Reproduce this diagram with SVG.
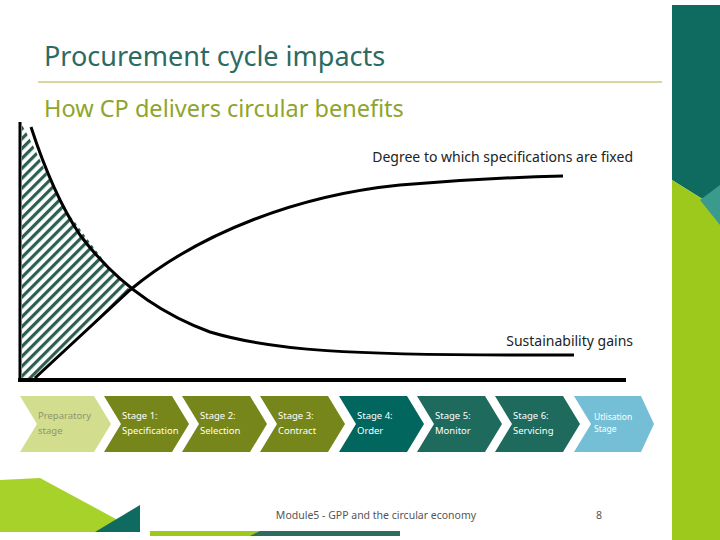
<svg xmlns="http://www.w3.org/2000/svg" width="720" height="540" viewBox="0 0 720 540">
<style>
text{font-family:"Noto Sans","Liberation Sans",sans-serif}
.st{font-size:9.5px;fill:#fff}
.crv{fill:none;stroke:#000;stroke-width:3}
</style>
<defs>
<pattern id="h" patternUnits="userSpaceOnUse" width="7" height="7" patternTransform="rotate(45)">
<rect width="7" height="7" fill="#fff"/><rect width="3.2" height="7" fill="#2c5f52"/>
</pattern>
</defs>
<rect width="720" height="540" fill="#fff"/>
<g id="deco">
<polygon points="672,5 720,5 720,210 672,180" fill="#0f6a5f"/>
<polygon points="672,180 720,210 720,540 672,540" fill="#9cc91c"/>
<polygon points="700,200 720,185 720,225" fill="#3a9a8c"/>
<polygon points="0,480 40,478 140,532 0,532" fill="#a7d22a"/>
<polygon points="95,532 140,505 140,532" fill="#0f6a5f"/>
<polygon points="150,531 400,531 400,536 150,536" fill="#9cc91c"/>
<polygon points="260,531 400,531 400,536 250,536" fill="#2d6d5f"/>
</g>
<text x="44" y="66" font-size="27" fill="#2c6a62">Procurement cycle impacts</text>
<line x1="38" y1="82" x2="662" y2="82" stroke="#b8aa45" stroke-width="1"/>
<text x="44" y="117" font-size="23.5" fill="#8fa52a">How CP delivers circular benefits</text>
<g id="chart">
<path d="M22,125 C40,155 55,200 75,222 C95,250 112,272 130,290 L35,378 L22,378 Z" fill="url(#h)"/>
<line x1="20" y1="122" x2="20" y2="382" stroke="#000" stroke-width="3"/>
<line x1="18" y1="380" x2="626" y2="380" stroke="#000" stroke-width="4"/>
<path class="crv" d="M31,127 C45,170 60,205 80,235 C110,275 150,310 210,332 C270,350 340,356 574,355"/>
<path class="crv" d="M35,378 L130,290 C200,232 300,195 400,185 C470,179 520,177 563,176"/>
<text x="633" y="162" text-anchor="end" font-size="14" fill="#222">Degree to which specifications are fixed</text>
<text x="633" y="346" text-anchor="end" font-size="14" fill="#222">Sustainability gains</text>
</g>
<g id="n0"><polygon points="20,396 94,396 111,424 94,452 20,452 37,424" fill="#d2dd8e"/><text class="st" x="38" y="419" style="fill:#8f9570">Preparatory</text><text class="st" x="38" y="434" style="fill:#8f9570">stage</text></g>
<g id="n1"><polygon points="104,396 172,396 189,424 172,452 104,452 121,424" fill="#76861a"/><text class="st" x="122" y="419">Stage 1:</text><text class="st" x="122" y="434">Specification</text></g>
<g id="n2"><polygon points="182,396 250,396 267,424 250,452 182,452 199,424" fill="#76861a"/><text class="st" x="200" y="419">Stage 2:</text><text class="st" x="200" y="434">Selection</text></g>
<g id="n3"><polygon points="260,396 328,396 345,424 328,452 260,452 277,424" fill="#76861a"/><text class="st" x="278" y="419">Stage 3:</text><text class="st" x="278" y="434">Contract</text></g>
<g id="n4"><polygon points="339,396 407,396 424,424 407,452 339,452 356,424" fill="#00665e"/><text class="st" x="357" y="419">Stage 4:</text><text class="st" x="357" y="434">Order</text></g>
<g id="n5"><polygon points="417,396 485,396 502,424 485,452 417,452 434,424" fill="#1e6a5c"/><text class="st" x="435" y="419">Stage 5:</text><text class="st" x="435" y="434">Monitor</text></g>
<g id="n6"><polygon points="495,396 563,396 580,424 563,452 495,452 512,424" fill="#1e6a5c"/><text class="st" x="513" y="419">Stage 6:</text><text class="st" x="513" y="434">Servicing</text></g>
<g id="n7"><polygon points="574,396 641,396 654,424 641,452 574,452 591,424" fill="#74bfd5"/><text class="st" x="594" y="420" style="font-size:8.5px">Utlisation</text><text class="st" x="594" y="432" style="font-size:8.5px">Stage</text></g>
<text x="376" y="519" text-anchor="middle" font-size="10.5" fill="#555">Module5 - GPP and the circular economy</text>
<text x="599" y="519" text-anchor="middle" font-size="10.5" fill="#555">8</text>
</svg>
